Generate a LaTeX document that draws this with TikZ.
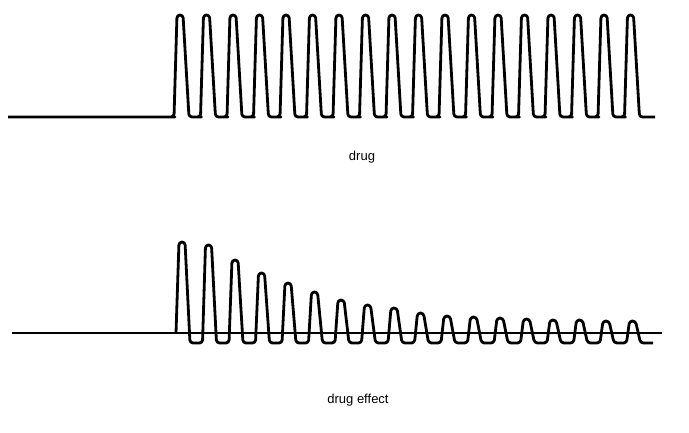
\documentclass[tikz,border=0pt]{standalone}
\usepackage{fontspec}
\setmainfont{Liberation Sans}
\begin{document}
\begin{tikzpicture}[x=1pt,y=-1pt,
    trace/.style={line width=2.8pt,rounded corners=3pt,line join=round},
    lbl/.style={font=\fontsize{13}{15}\selectfont}]
   \useasboundingbox (0,0) rectangle (689,433);
   % drug
   \coordinate (d0) at (8,117);
   \coordinate (d1) at (172,117);
   \draw[trace] (d0) -- (d1)
     \foreach \i in {0,...,17} {
       -- ++(2,0) -- ++(3,-102) -- ++(6,0) -- ++(6,102) -- ++(9.5,0)
     } -- (655,117);
   \node[lbl] (drug) at (362,157) {drug};
   % drug effect
   \coordinate (e0) at (12,333);
   \coordinate (e1) at (662,333);
   \draw[line width=2.8pt] (e0) -- (e1);
   \draw[trace] (176,333)
     \foreach \p [count=\i from 0] in {242,245,260,273,283,292,300,305,308,313,316,317,318,319,320,320,321,321} {
       -- ({176+26.5*\i+3},\p) -- ({176+26.5*\i+9},\p) -- ({176+26.5*\i+14},343) -- ({176+26.5*\i+26.5},343)
     };
   \node[lbl] (effect) at (358,400) {drug effect};
\end{tikzpicture}
\end{document}
